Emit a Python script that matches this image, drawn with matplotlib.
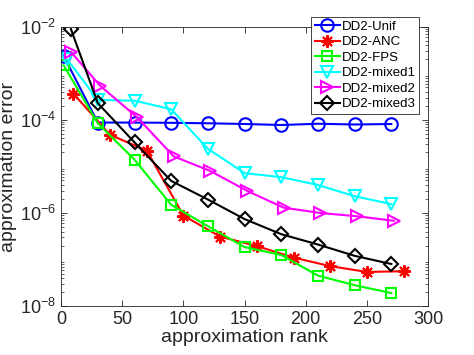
import matplotlib
matplotlib.use('Agg')
import matplotlib.pyplot as plt
from matplotlib.ticker import LogLocator, NullFormatter

plt.rcParams['font.family'] = ['Liberation Sans', 'DejaVu Sans']
plt.rcParams['mathtext.fontset'] = 'custom'
plt.rcParams['mathtext.rm'] = 'Liberation Sans'
plt.rcParams['mathtext.it'] = 'Liberation Sans:italic'

# approximation rank (x) and error (y) for each sampling scheme
unif_x = [2, 30, 60, 90, 120, 150, 180, 210, 240, 270]
unif_y = [2.4e-3, 8.8e-5, 8.8e-5, 8.7e-5, 8.5e-5, 8.2e-5, 7.8e-5, 8.3e-5, 8.0e-5, 8.2e-5]

anc_x = [10, 40, 70, 100, 130, 160, 190, 220, 250, 280]
anc_y = [3.7e-4, 4.8e-5, 2.2e-5, 8.8e-7, 3.1e-7, 1.95e-7, 1.1e-7, 7.2e-8, 5.4e-8, 5.6e-8]

fps_x = [2, 30, 60, 90, 120, 150, 180, 210, 240, 270]
fps_y = [1.5e-3, 8.5e-5, 1.4e-5, 1.5e-6, 5.2e-7, 1.85e-7, 1.25e-7, 4.5e-8, 2.8e-8, 1.9e-8]

mixed1_x = [5, 30, 60, 90, 120, 150, 180, 210, 240, 270]
mixed1_y = [2.0e-3, 2.7e-4, 2.6e-4, 1.7e-4, 2.4e-5, 7.2e-6, 5.9e-6, 4.0e-6, 2.3e-6, 1.55e-6]

mixed2_x = [8, 32, 62, 92, 122, 152, 182, 212, 242, 272]
mixed2_y = [2.9e-3, 5.4e-4, 1.15e-4, 1.65e-5, 8.0e-6, 3.0e-6, 1.3e-6, 1.0e-6, 8.5e-7, 6.8e-7]

mixed3_x = [8, 30, 60, 90, 120, 150, 180, 210, 240, 270]
mixed3_y = [9.0e-3, 2.3e-4, 3.3e-5, 4.9e-6, 1.95e-6, 7.4e-7, 3.5e-7, 2.1e-7, 1.2e-7, 8.0e-8]

series = [
    ('DD2-Unif', unif_x, unif_y, (0, 0, 1), 'o', 9),
    ('DD2-ANC', anc_x, anc_y, (1, 0, 0), (8, 2, 0), 9),
    ('DD2-FPS', fps_x, fps_y, (0, 1, 0), 's', 7.5),
    ('DD2-mixed1', mixed1_x, mixed1_y, (0, 1, 1), 'v', 9),
    ('DD2-mixed2', mixed2_x, mixed2_y, (1, 0, 1), '>', 9),
    ('DD2-mixed3', mixed3_x, mixed3_y, (0, 0, 0), 'D', 7),
]

axcol = (0.15, 0.15, 0.15)

fig = plt.figure(figsize=(4.74, 3.55), dpi=100)
ax = fig.add_axes([0.129, 0.138, 0.774, 0.786])

for name, xs, ys, col, mk, ms in series:
    ax.plot(xs, ys, color=col, lw=1.5, marker=mk, ms=ms, mfc='none',
            mec=col, mew=1.5, label=name)

ax.set_yscale('log')
ax.set_xlim(0, 300)
ax.set_ylim(1e-8, 1e-2)
ax.set_xticks([0, 50, 100, 150, 200, 250, 300])
ax.set_yticks([1e-8, 1e-6, 1e-4, 1e-2])
ax.set_yticklabels([r'$10^{-8}$', r'$10^{-6}$', r'$10^{-4}$', r'$10^{-2}$'])
ax.yaxis.set_minor_locator(LogLocator(base=10, subs=range(2, 10), numticks=20))
ax.yaxis.set_minor_formatter(NullFormatter())

ax.tick_params(which='both', direction='in', top=True, right=True,
               colors=axcol, labelsize=13)
ax.tick_params(which='major', length=4, width=0.6)
ax.tick_params(which='minor', length=2, width=0.5)
for sp in ax.spines.values():
    sp.set_color(axcol)
    sp.set_linewidth(0.6)

ax.set_xlabel('approximation rank', fontsize=14, color=axcol, labelpad=1)
ax.set_ylabel('approximation error', fontsize=14, color=axcol, labelpad=2)

leg = ax.legend(loc='upper right', bbox_to_anchor=(0.975, 1.035), fontsize=9.5,
                frameon=True, fancybox=False, edgecolor=axcol, framealpha=1,
                borderpad=0.25, labelspacing=0.25, handlelength=1.9,
                handletextpad=0.15, borderaxespad=0)
leg.get_frame().set_linewidth(0.6)

fig.savefig('out.png', dpi=100)
